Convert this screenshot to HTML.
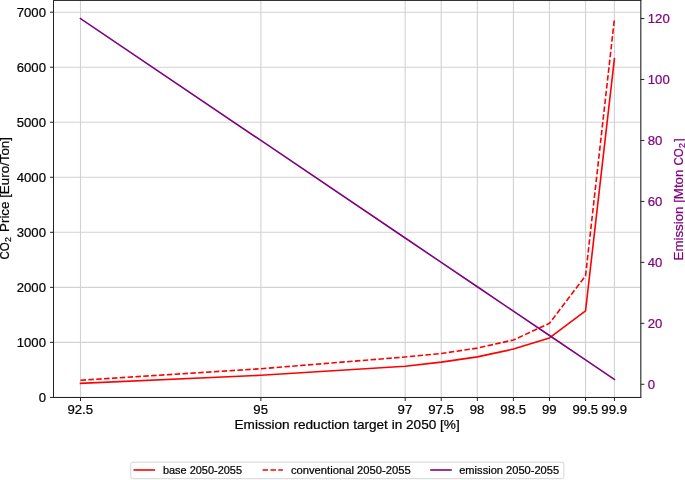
<!DOCTYPE html><html><head><meta charset="utf-8"><style>html,body{margin:0;padding:0;background:#fff;width:685px;height:480px;overflow:hidden}svg{display:block}text{font-family:"Liberation Sans", sans-serif}</style></head><body>
<svg width="685" height="480" viewBox="0 0 685 480">
<rect width="685" height="480" fill="#fff"/>
<path d="M80.50 0.50V397.50M260.88 0.50V397.50M405.18 0.50V397.50M441.25 0.50V397.50M477.33 0.50V397.50M513.40 0.50V397.50M549.48 0.50V397.50M585.55 0.50V397.50M614.41 0.50V397.50M53.50 397.40H640.80M53.50 342.37H640.80M53.50 287.34H640.80M53.50 232.31H640.80M53.50 177.28H640.80M53.50 122.25H640.80M53.50 67.22H640.80M53.50 12.19H640.80" stroke="#d2d2d2" stroke-width="1.1" fill="none"/>
<defs><clipPath id="ax"><rect x="53.50" y="0.50" width="587.30" height="397.00"/></clipPath></defs>
<g clip-path="url(#ax)" fill="none" stroke-linejoin="round">
<polyline points="80.50,383.31 260.88,375.28 405.18,366.20 441.25,362.13 477.33,356.90 513.40,349.08 549.48,337.91 585.55,310.78 614.41,58.64" stroke="#ff0000" stroke-width="1.6" stroke-linecap="square"/>
<polyline points="80.50,380.18 260.88,368.73 405.18,357.01 441.25,353.49 477.33,348.09 513.40,340.00 549.48,323.33 585.55,275.78 614.41,19.01" stroke="#ff0000" stroke-width="1.6" stroke-dasharray="5.49 2.37"/>
<polyline points="80.50,18.54 260.88,140.46 405.18,238.00 441.25,262.38 477.33,286.76 513.40,311.15 549.48,335.53 585.55,359.92 614.41,379.42" stroke="#800080" stroke-width="1.6" stroke-linecap="square"/>
</g>
<path d="M53.50 0V398.00" stroke="#222" stroke-width="1" fill="none"/>
<path d="M53.00 397.50H641.40" stroke="#222" stroke-width="1" fill="none"/>
<path d="M53.00 0.5H641.40" stroke="#333" stroke-width="1" fill="none"/>
<path d="M640.80 0V398.00" stroke="#333" stroke-width="1.2" fill="none"/>
<path d="M80.50 397.50V401.00M260.88 397.50V401.00M405.18 397.50V401.00M441.25 397.50V401.00M477.33 397.50V401.00M513.40 397.50V401.00M549.48 397.50V401.00M585.55 397.50V401.00M614.41 397.50V401.00M53.50 397.40H50.00M53.50 342.37H50.00M53.50 287.34H50.00M53.50 232.31H50.00M53.50 177.28H50.00M53.50 122.25H50.00M53.50 67.22H50.00M53.50 12.19H50.00" stroke="#222" stroke-width="1" fill="none"/>
<path d="M640.80 384.30H644.30M640.80 323.34H644.30M640.80 262.38H644.30M640.80 201.42H644.30M640.80 140.46H644.30M640.80 79.50H644.30M640.80 18.54H644.30" stroke="#222" stroke-width="1" fill="none"/>
<rect x="130.8" y="462.2" width="433.1" height="16.5" rx="2" fill="#fff" stroke="#d6d6d6" stroke-width="1"/>
<path d="M134.3 470H154.3" stroke="#ff0000" stroke-width="1.6" stroke-linecap="square"/>
<path d="M262.6 470H282.9" stroke="#ff0000" stroke-width="1.6" stroke-dasharray="5.49 2.37"/>
<path d="M431 470H451" stroke="#800080" stroke-width="1.6" stroke-linecap="square"/>
<g style="opacity:0.999">
<text id="xt_92.5" transform="translate(80.250 413.800) scale(1.0350 1)" font-size="12.72" text-anchor="middle" fill="#000" stroke="#000" stroke-width="0.22">92.5</text>
<text id="xt_95" transform="translate(260.625 413.800) scale(1.0350 1)" font-size="12.72" text-anchor="middle" fill="#000" stroke="#000" stroke-width="0.22">95</text>
<text id="xt_97" transform="translate(404.925 413.800) scale(1.0350 1)" font-size="12.72" text-anchor="middle" fill="#000" stroke="#000" stroke-width="0.22">97</text>
<text id="xt_97.5" transform="translate(441.000 413.800) scale(1.0350 1)" font-size="12.72" text-anchor="middle" fill="#000" stroke="#000" stroke-width="0.22">97.5</text>
<text id="xt_98" transform="translate(477.075 413.800) scale(1.0350 1)" font-size="12.72" text-anchor="middle" fill="#000" stroke="#000" stroke-width="0.22">98</text>
<text id="xt_98.5" transform="translate(513.150 413.800) scale(1.0350 1)" font-size="12.72" text-anchor="middle" fill="#000" stroke="#000" stroke-width="0.22">98.5</text>
<text id="xt_99" transform="translate(549.225 413.800) scale(1.0350 1)" font-size="12.72" text-anchor="middle" fill="#000" stroke="#000" stroke-width="0.22">99</text>
<text id="xt_99.5" transform="translate(585.300 413.800) scale(1.0350 1)" font-size="12.72" text-anchor="middle" fill="#000" stroke="#000" stroke-width="0.22">99.5</text>
<text id="xt_99.9" transform="translate(614.160 413.800) scale(1.0350 1)" font-size="12.72" text-anchor="middle" fill="#000" stroke="#000" stroke-width="0.22">99.9</text>
<text id="yl_0" transform="translate(46.000 402.050) scale(1.0350 1)" font-size="12.72" text-anchor="end" fill="#000" stroke="#000" stroke-width="0.22">0</text>
<text id="yl_1000" transform="translate(46.000 347.020) scale(1.0350 1)" font-size="12.72" text-anchor="end" fill="#000" stroke="#000" stroke-width="0.22">1000</text>
<text id="yl_2000" transform="translate(46.000 291.990) scale(1.0350 1)" font-size="12.72" text-anchor="end" fill="#000" stroke="#000" stroke-width="0.22">2000</text>
<text id="yl_3000" transform="translate(46.000 236.960) scale(1.0350 1)" font-size="12.72" text-anchor="end" fill="#000" stroke="#000" stroke-width="0.22">3000</text>
<text id="yl_4000" transform="translate(46.000 181.930) scale(1.0350 1)" font-size="12.72" text-anchor="end" fill="#000" stroke="#000" stroke-width="0.22">4000</text>
<text id="yl_5000" transform="translate(46.000 126.900) scale(1.0350 1)" font-size="12.72" text-anchor="end" fill="#000" stroke="#000" stroke-width="0.22">5000</text>
<text id="yl_6000" transform="translate(46.000 71.870) scale(1.0350 1)" font-size="12.72" text-anchor="end" fill="#000" stroke="#000" stroke-width="0.22">6000</text>
<text id="yl_7000" transform="translate(46.000 16.840) scale(1.0350 1)" font-size="12.72" text-anchor="end" fill="#000" stroke="#000" stroke-width="0.22">7000</text>
<text id="yr_0" transform="translate(647.800 388.900) scale(1.0350 1)" font-size="12.72" text-anchor="start" fill="#800080" stroke="#800080" stroke-width="0.22">0</text>
<text id="yr_20" transform="translate(647.800 327.940) scale(1.0350 1)" font-size="12.72" text-anchor="start" fill="#800080" stroke="#800080" stroke-width="0.22">20</text>
<text id="yr_40" transform="translate(647.800 266.980) scale(1.0350 1)" font-size="12.72" text-anchor="start" fill="#800080" stroke="#800080" stroke-width="0.22">40</text>
<text id="yr_60" transform="translate(647.800 206.020) scale(1.0350 1)" font-size="12.72" text-anchor="start" fill="#800080" stroke="#800080" stroke-width="0.22">60</text>
<text id="yr_80" transform="translate(647.800 145.060) scale(1.0350 1)" font-size="12.72" text-anchor="start" fill="#800080" stroke="#800080" stroke-width="0.22">80</text>
<text id="yr_100" transform="translate(647.800 84.100) scale(1.0350 1)" font-size="12.72" text-anchor="start" fill="#800080" stroke="#800080" stroke-width="0.22">100</text>
<text id="yr_120" transform="translate(647.800 23.140) scale(1.0350 1)" font-size="12.72" text-anchor="start" fill="#800080" stroke="#800080" stroke-width="0.22">120</text>
<text id="xlabel" transform="translate(347.116 428.700) scale(1.0698 1)" font-size="12.72" text-anchor="middle" fill="#000" stroke="#000" stroke-width="0.22">Emission reduction target in 2050 [%]</text>
<text id="ylabL_CO" transform="translate(9.300 259.500) rotate(-90) scale(0.9000 1)" font-size="12.72" text-anchor="start" fill="#000" stroke="#000" stroke-width="0.22">CO</text>
<text id="ylabL_2" transform="translate(11.200 242.050) rotate(-90) scale(1.0000 1)" font-size="8.90" text-anchor="start" fill="#000" stroke="#000" stroke-width="0.22">2</text>
<text id="ylabL_P" transform="translate(9.300 136.994) rotate(-90) scale(1.0501 1)" font-size="12.72" text-anchor="end" fill="#000" stroke="#000" stroke-width="0.22">Price [Euro/Ton]</text>
<text id="ylabR_E" transform="translate(682.700 260.395) rotate(-90) scale(1.0443 1)" font-size="12.72" text-anchor="start" fill="#800080" stroke="#800080" stroke-width="0.22">Emission [Mton</text>
<text id="ylabR_CO" transform="translate(682.700 165.600) rotate(-90) scale(0.9000 1)" font-size="12.72" text-anchor="start" fill="#800080" stroke="#800080" stroke-width="0.22">CO</text>
<text id="ylabR_2" transform="translate(684.600 148.050) rotate(-90) scale(1.0000 1)" font-size="8.90" text-anchor="start" fill="#800080" stroke="#800080" stroke-width="0.22">2</text>
<text id="ylabR_br" transform="translate(682.700 138.250) rotate(-90) scale(1.0000 1)" font-size="12.72" text-anchor="end" fill="#800080" stroke="#800080" stroke-width="0.22">]</text>
<text id="leg_base" transform="translate(162.915 473.600) scale(1.0331 1)" font-size="10.60" text-anchor="start" fill="#000" stroke="#000" stroke-width="0.22">base 2050-2055</text>
<text id="leg_conv" transform="translate(290.903 473.600) scale(1.0605 1)" font-size="10.60" text-anchor="start" fill="#000" stroke="#000" stroke-width="0.22">conventional 2050-2055</text>
<text id="leg_emis" transform="translate(459.204 473.600) scale(1.0480 1)" font-size="10.60" text-anchor="start" fill="#000" stroke="#000" stroke-width="0.22">emission 2050-2055</text>
</g>
</svg></body></html>
